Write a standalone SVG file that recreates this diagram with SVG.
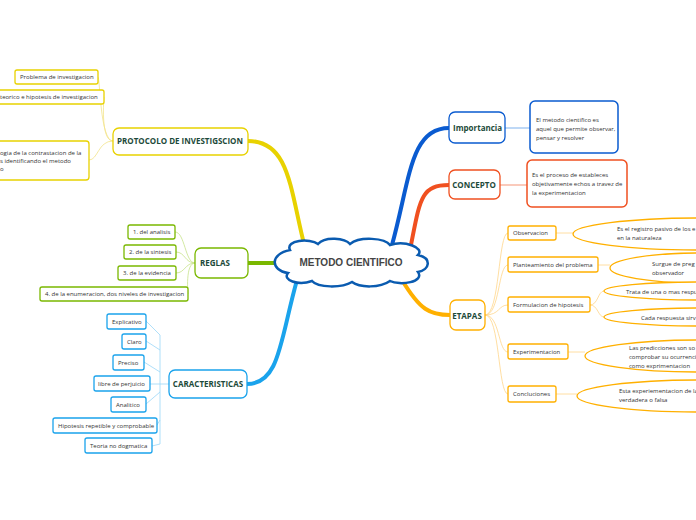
<svg xmlns="http://www.w3.org/2000/svg" width="696" height="520" viewBox="0 0 696 520">
<style>
text{font-family:"Open Sans","Liberation Sans",sans-serif;fill:#333;font-size:6px}
.t{font-size:8px;font-weight:bold;fill:#1d4a3a}
.c{text-anchor:middle}
.y{fill:#fff;stroke:#e8d200;stroke-width:1.3}
.g{fill:#fff;stroke:#7ab800;stroke-width:1.3}
.b{fill:#fff;stroke:#1aa3ec;stroke-width:1.3}
.o{fill:#fff;stroke:#ffb000;stroke-width:1.3}
.yl{stroke:#f3e38a;fill:none;stroke-width:0.8}
.gl{stroke:#c6e28a;fill:none;stroke-width:0.8}
.bl{stroke:#9ad7f7;fill:none;stroke-width:0.8}
.ol{stroke:#ffd68a;fill:none;stroke-width:0.8}
</style>
<rect width="696" height="520" fill="#fff"/>
<g id="connectors" fill="none">
<path d="M305,248 C290,190 290,141 248,141" stroke="#e8d200" stroke-width="4"/>
<path d="M280,263 L248,263" stroke="#7ab800" stroke-width="4"/>
<path d="M297,280 C280,340 280,384 247,384" stroke="#1aa3ec" stroke-width="4"/>
<path d="M392,245 C410,180 410,128 449,128" stroke="#0a5bd0" stroke-width="4"/>
<path d="M410,250 C420,200 420,185 449,185" stroke="#f05020" stroke-width="4"/>
<path d="M402,280 C420,310 430,315 450,315" stroke="#ffb000" stroke-width="4"/>
<path class="yl" d="M113,141 C100,141 100,77 98,77 M113,141 C100,141 104,97 104,97 M113,141 C98,141 98,160 89,160"/>
<path class="gl" d="M195,263 C185,263 185,232 175,232 M195,263 C185,263 185,252 176,252 M195,263 C185,263 185,273 176,273 M195,263 C185,263 188,294 188,294"/>
<path class="bl" d="M169,384 L160,384 M146,321 L160,335 L160,444 L152,446 M146,341 L160,350 M144,362 L160,372 M150,384 L160,384 M146,404 L160,392 M157,425 L160,420"/>
<path d="M505,128 L530,128" stroke="#a9cbf3" stroke-width="1.5"/>
<path d="M500,185 L527,185" stroke="#f9b9a4" stroke-width="1.5"/>
<path class="ol" d="M485,315 C500,315 498,233 508,233 M485,315 C500,315 498,265 508,265 M485,315 C500,315 498,305 508,305 M485,315 C500,315 498,352 508,352 M485,315 C500,315 498,394 508,394"/>
<path class="ol" d="M556,233 L573,233 M598,265 L610,265 M590,305 C598,305 598,291 604,291 M590,305 C598,305 598,317 604,317 M568,352 L585,352 M556,394 L577,394"/>
</g>
<g id="center">
<path d="M290,250 C285,240 310,238 318,244 C325,236 345,238 350,244 C360,236 385,238 390,245 C405,240 425,248 418,255 C432,258 430,270 418,272 C425,282 400,286 390,281 C380,288 360,288 352,282 C342,288 318,288 312,281 C298,286 282,280 288,273 C270,270 270,254 290,250 Z" fill="#fff" stroke="#0a5bb0" stroke-width="2.5"/>
<text x="351" y="266" class="c" style="font-size:10px;font-weight:bold;fill:#444;font-family:'Liberation Sans',sans-serif">METODO CIENTIFICO</text>
</g>
<g id="protocolo"><rect class="y" x="113" y="128" width="135" height="27" rx="6"/><text class="t c" x="180" y="144">PROTOCOLO DE INVESTIGSCION</text></g>
<g id="p1"><rect class="y" x="15" y="70" width="83" height="14" rx="2"/><text x="20" y="79">Problema de investigacion</text></g>
<g id="p2"><rect class="y" x="-5" y="90" width="109" height="14" rx="2"/><text x="0" y="99">teorico e hipotesis de investigacion</text></g>
<g id="p3"><rect class="y" x="-5" y="141" width="94" height="39" rx="3"/><text x="0" y="155">ogia de la contrastacion de la</text><text x="0" y="163">s identificando el metodo</text><text x="0" y="171">o</text></g>
<g id="reglas"><rect class="g" x="195" y="248" width="53" height="30" rx="6"/><text class="t c" x="215" y="266">REGLAS</text></g>
<g id="r1"><rect class="g" x="128" y="225" width="47" height="14" rx="2"/><text x="133" y="234">1. del analisis</text></g>
<g id="r2"><rect class="g" x="124" y="245" width="52" height="14" rx="2"/><text x="129" y="254">2. de la sintesis</text></g>
<g id="r3"><rect class="g" x="118" y="266" width="58" height="14" rx="2"/><text x="123" y="275">3. de la evidencia</text></g>
<g id="r4"><rect class="g" x="40" y="287" width="148" height="14" rx="2"/><text x="45" y="296">4. de la enumeracion, dos niveles de investigacion</text></g>
<g id="caracteristicas"><rect class="b" x="169" y="370" width="78" height="28" rx="6"/><text class="t c" x="208" y="387">CARACTERISTICAS</text></g>
<g id="c1"><rect class="b" x="107" y="314" width="39" height="15" rx="2"/><text x="112" y="324">Explicativo</text></g>
<g id="c2"><rect class="b" x="122" y="334" width="24" height="15" rx="2"/><text x="127" y="344">Claro</text></g>
<g id="c3"><rect class="b" x="113" y="355" width="31" height="15" rx="2"/><text x="118" y="365">Preciso</text></g>
<g id="c4"><rect class="b" x="94" y="376" width="56" height="15" rx="2"/><text x="98" y="386">libre de perjuicio</text></g>
<g id="c5"><rect class="b" x="111" y="397" width="35" height="15" rx="2"/><text x="116" y="407">Analitico</text></g>
<g id="c6"><rect class="b" x="53" y="418" width="104" height="15" rx="2"/><text x="58" y="428">Hipotesis repetible y comprobable</text></g>
<g id="c7"><rect class="b" x="85" y="438" width="67" height="15" rx="2"/><text x="90" y="448">Teoria no dogmatica</text></g>
<g id="importancia"><rect x="449" y="112" width="56" height="31" rx="6" fill="#fff" stroke="#0a5bd0" stroke-width="1.3"/><text class="t" x="453" y="131">Importancia</text></g>
<g id="imp1"><rect x="530" y="101" width="88" height="52" rx="5" fill="#fff" stroke="#0a5bd0" stroke-width="1.5"/><text x="536" y="122">El metodo cientifico es</text><text x="536" y="131">aquel que permite observar,</text><text x="536" y="140">pensar y resolver</text></g>
<g id="concepto"><rect x="449" y="170" width="51" height="29" rx="6" fill="#fff" stroke="#f05020" stroke-width="1.3"/><text class="t c" x="474" y="188">CONCEPTO</text></g>
<g id="con1"><rect x="527" y="160" width="100" height="47" rx="5" fill="#fff" stroke="#f05020" stroke-width="1.5"/><text x="532" y="177">Es el proceso de estableces</text><text x="532" y="186">objetivamente echos a travez de</text><text x="532" y="195">la experimentacion</text></g>
<g id="etapas"><rect class="o" x="450" y="300" width="35" height="30" rx="6"/><text class="t c" x="467" y="319">ETAPAS</text></g>
<g id="e1"><rect class="o" x="508" y="226" width="48" height="14" rx="2"/><text x="513" y="235">Observacion</text></g>
<g id="e2"><rect class="o" x="508" y="257" width="90" height="15" rx="2"/><text x="513" y="267">Planteamiento del problema</text></g>
<g id="e3"><rect class="o" x="508" y="297" width="82" height="15" rx="2"/><text x="513" y="307">Formulacion de hipotesis</text></g>
<g id="e4"><rect class="o" x="508" y="344" width="60" height="15" rx="2"/><text x="513" y="354">Experimentacion</text></g>
<g id="e5"><rect class="o" x="508" y="386" width="48" height="16" rx="2"/><text x="513" y="396">Concluciones</text></g>
<g id="e1a"><ellipse class="o" cx="700" cy="234" rx="127" ry="16"/><text x="617" y="231">Es el registro pasivo de los e</text><text x="617" y="240">en la naturaleza</text></g>
<g id="e2a"><ellipse class="o" cx="700" cy="268" rx="90" ry="15"/><text x="652" y="266">Surgue de preg</text><text x="652" y="275">observador</text></g>
<g id="e3a"><ellipse class="o" cx="700" cy="291" rx="96" ry="9"/><text x="626" y="294">Trata de una o mas respu</text></g>
<g id="e3b"><ellipse class="o" cx="700" cy="317" rx="96" ry="9"/><text x="641" y="320">Cada respuesta sirv</text></g>
<g id="e4a"><ellipse class="o" cx="700" cy="356" rx="115" ry="16"/><text x="629" y="350">Las predicciones son so</text><text x="629" y="359">comprobar su ocurrenci</text><text x="629" y="368">como exprimentacion</text></g>
<g id="e5a"><ellipse class="o" cx="700" cy="396" rx="123" ry="16"/><text x="619" y="393">Esta experiementacion de la</text><text x="619" y="402">verdadera o falsa</text></g>
</svg>
